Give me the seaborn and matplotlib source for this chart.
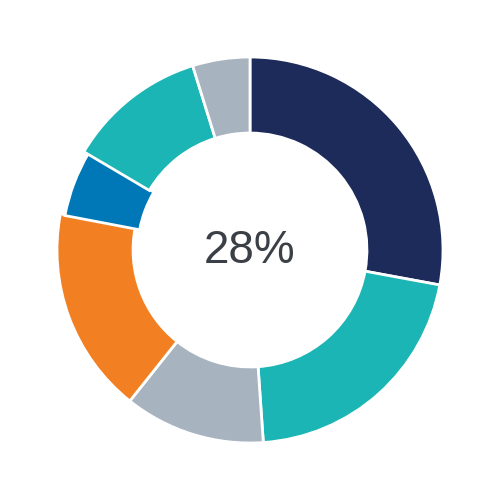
import matplotlib
matplotlib.use("Agg")
import matplotlib.pyplot as plt
import seaborn as sns

# slice shares, clockwise from 12 o'clock
segments = ['A', 'B', 'C', 'D', 'E', 'F', 'G']
shares = [27.9, 21.0, 11.8, 17.3, 5.5, 11.7, 4.8]
colors = ['#1c2b5a', '#1bb5b5', '#a8b3c0', '#f27f22', '#0077b6', '#1bb5b5', '#a8b3c0']
center_label = '28%'

sns.set_theme(style="white")
plt.rcParams['font.family'] = ['Liberation Sans', 'DejaVu Sans']

fig = plt.figure(figsize=(5, 5), dpi=100)
ax = fig.add_axes([0, 0, 1, 1])

explode = [0, 0, 0, 0, -0.025, 0, 0]
ax.pie(shares, colors=colors, startangle=90, counterclock=False,
       explode=explode, radius=1,
       wedgeprops=dict(width=0.394, edgecolor='white', linewidth=2))

ax.text(0, -0.005, center_label, ha='center', va='center',
        fontsize=33, color='#3b4046')

lim = 250 / 193
ax.set_xlim(-lim, lim)
ax.set_ylim(-lim, lim)
ax.set_aspect('equal')
ax.axis('off')

fig.savefig("out.png", dpi=100, facecolor='white')
